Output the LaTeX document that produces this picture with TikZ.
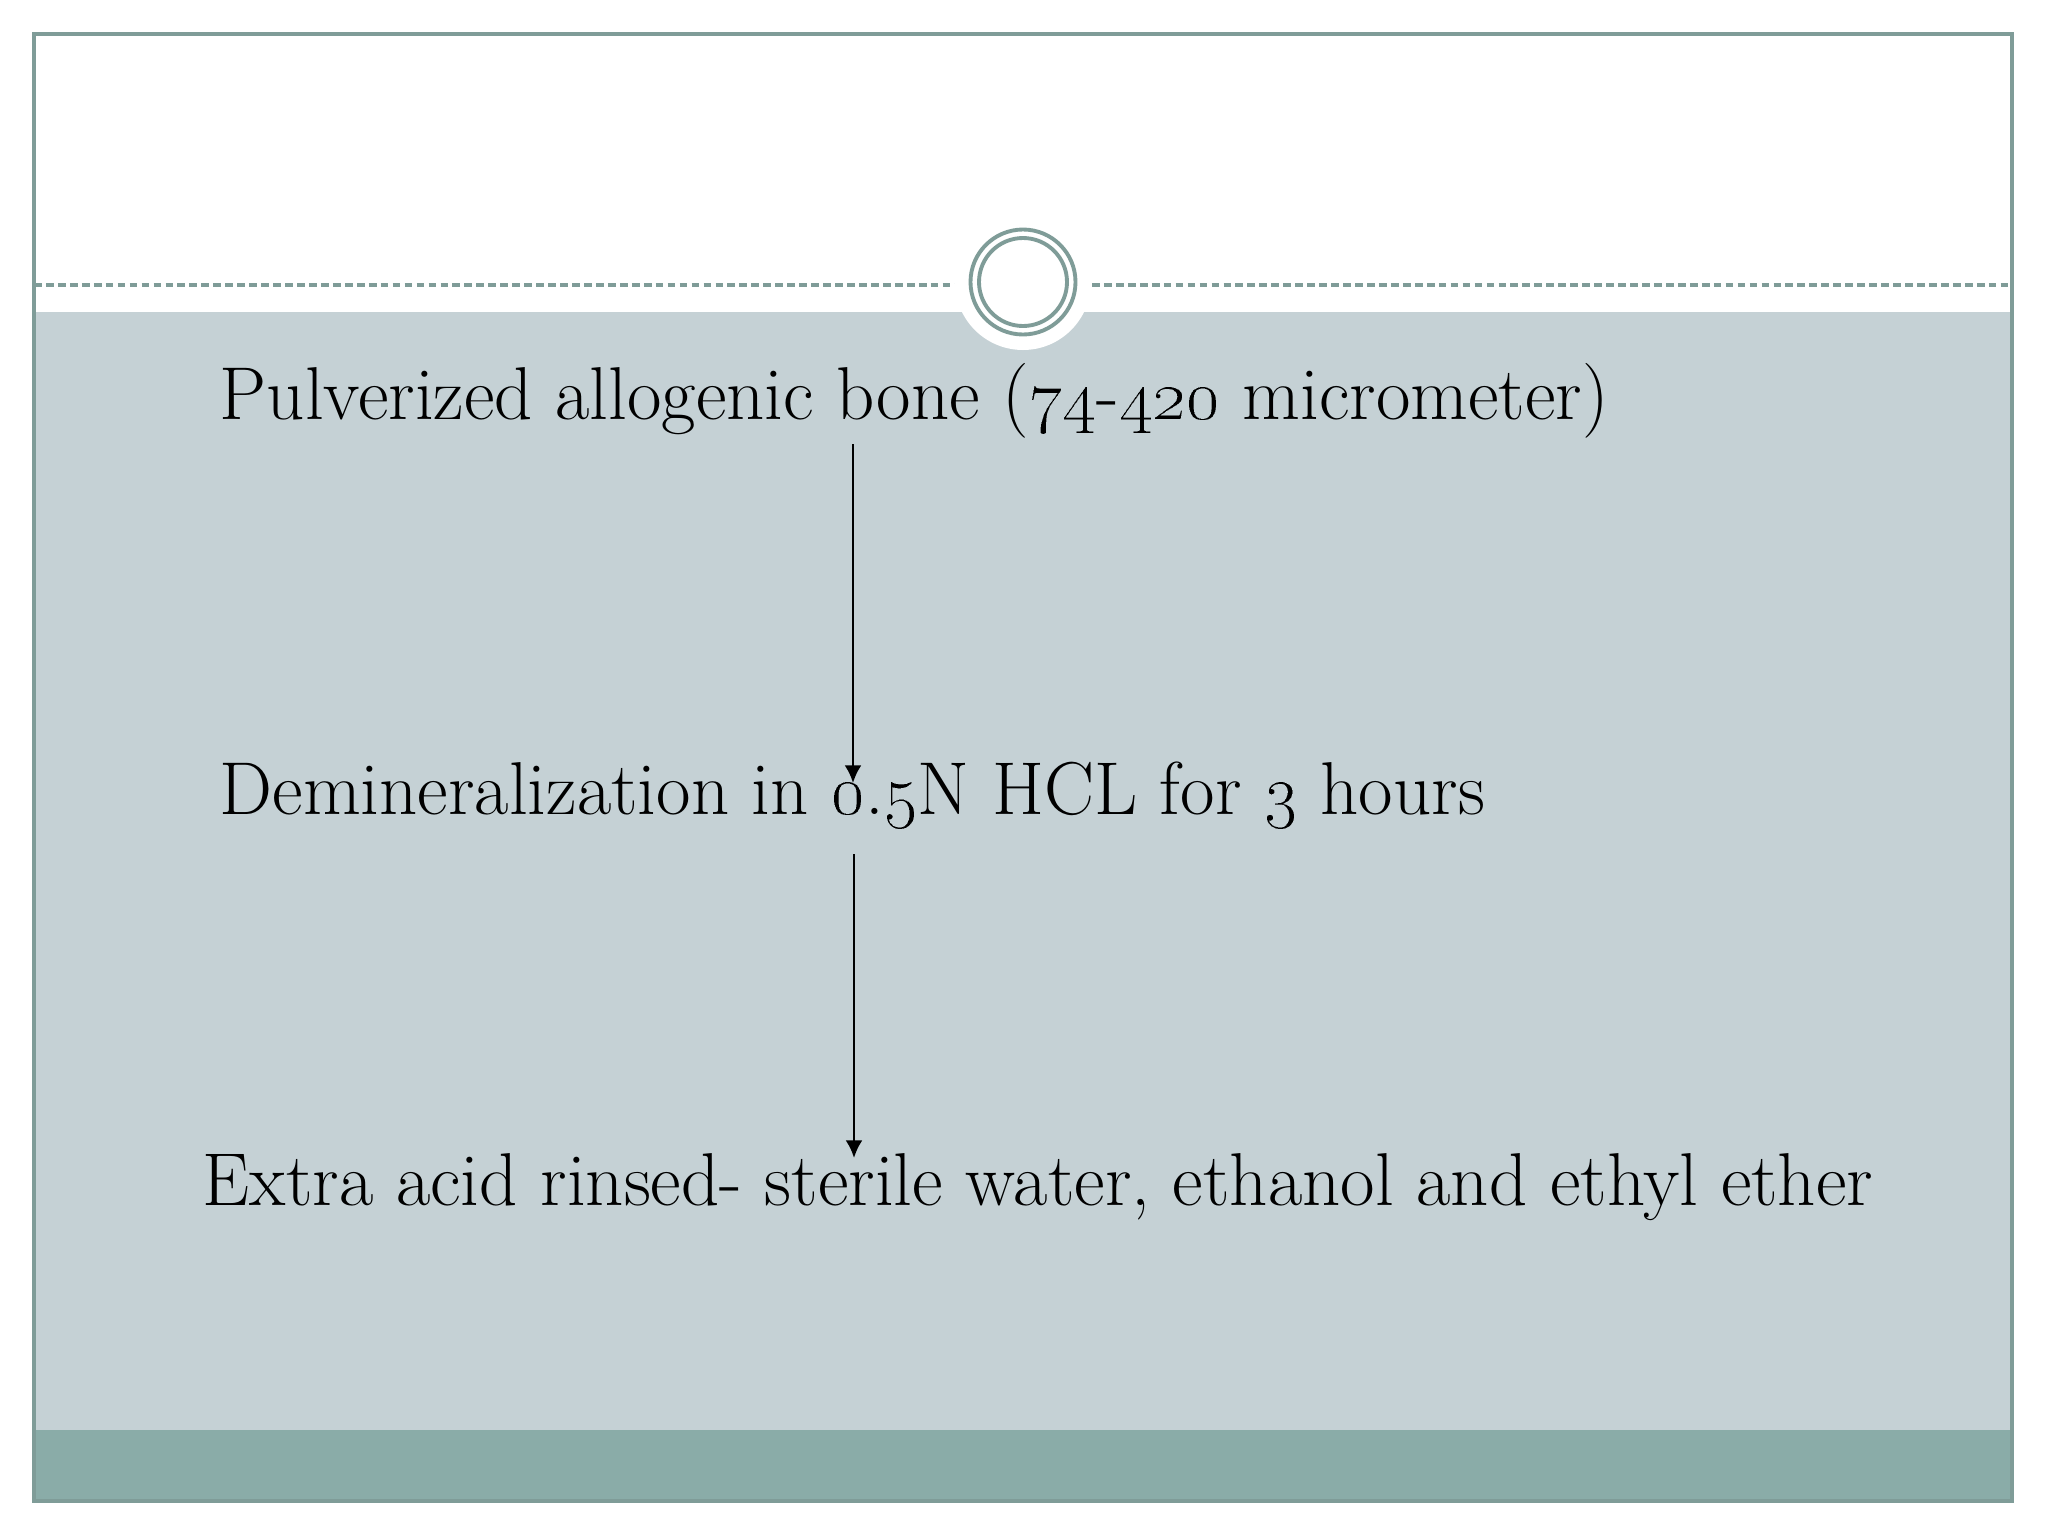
\documentclass[tikz,border=0pt]{standalone}
\usetikzlibrary{arrows.meta}

\definecolor{panelgrey}{HTML}{C5D1D5}
\definecolor{footgreen}{HTML}{8AACA8}
\definecolor{rimgreen}{HTML}{7F9C98}

\begin{document}
\begin{tikzpicture}[x=0.01cm, y=-0.01cm]
    % Define slide size
    \def\slideleft{34}
    \def\slideright{2012}
    \def\slidetop{34}
    \def\slidebottom{1501}

    % Define step texts, left edge and baseline
    \def\steps{%
      {Pulverized allogenic bone (\oldstylenums{74}-\oldstylenums{420} micrometer)}/219/419,%
      {Demineralization in \oldstylenums{0}.\oldstylenums{5}N HCL for \oldstylenums{3} hours}/219/814,%
      {Extra acid rinsed- sterile water, ethanol and ethyl ether}/202/1205%
    }

    \useasboundingbox (0,0) rectangle (2048,1536);

    % Draw panels
    \fill[panelgrey] (\slideleft,312) rectangle (\slideright,1430);
    \fill[footgreen] (\slideleft,1430) rectangle (\slideright,\slidebottom);
    \draw[rimgreen, line width=0.9pt, dash pattern=on 2.2pt off 1.2pt] (\slideleft,285) -- (955,285);
    \draw[rimgreen, line width=0.9pt, dash pattern=on 2.2pt off 1.2pt] (1092,285) -- (\slideright,285);

    % Draw ring
    \fill[white] (1023,282) circle (68);
    \draw[rimgreen, line width=1.1pt] (1023,282) circle (52.5);
    \draw[rimgreen, line width=1.1pt] (1023,282) circle (44);

    % Draw frame
    \draw[rimgreen, line width=1.1pt] (\slideleft,\slidetop) rectangle (\slideright,\slidebottom);

    % Draw step labels
    \foreach \txt/\xpos/\ypos [count=\i] in \steps {
        \node[anchor=base west, inner sep=0pt, font=\fontsize{21.3}{25}\selectfont] (t\i) at (\xpos,\ypos) {\txt};
    }

    % Draw arrows
    \coordinate (a1) at (853,444);
    \coordinate (b1) at (853,783);
    \coordinate (a2) at (854,854);
    \coordinate (b2) at (854,1158);
    \draw[line width=0.75pt, -{Latex[length=5pt, width=4.8pt]}] (a1) -- (b1);
    \draw[line width=0.75pt, -{Latex[length=5pt, width=4.8pt]}] (a2) -- (b2);

\end{tikzpicture}
\end{document}
